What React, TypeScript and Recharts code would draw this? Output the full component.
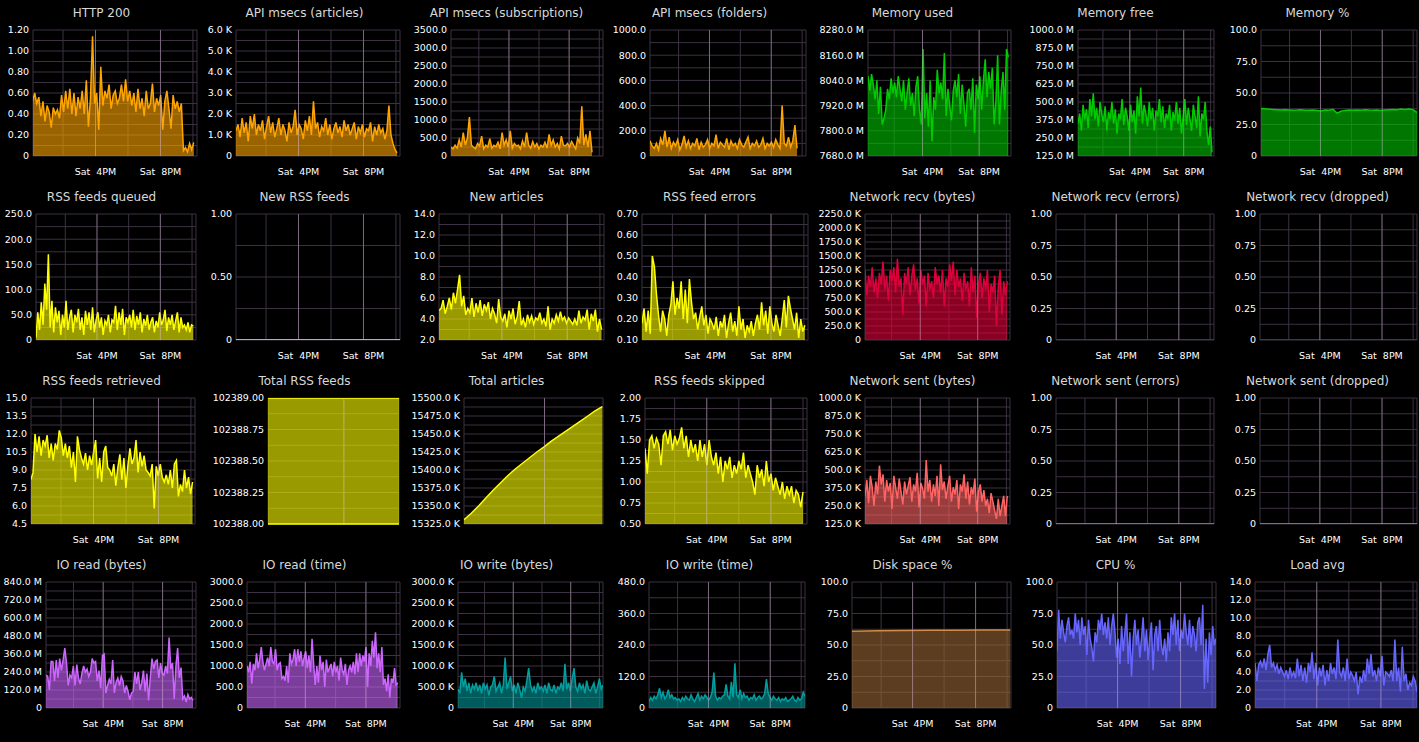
import React from "react";
import { Area, AreaChart, CartesianGrid, ReferenceLine, XAxis, YAxis } from "recharts";

// time axis, in hours of the day (Saturday)
const T0 = 12.15;
const T1 = 22.25;
const END = 22.06;
const hourTicks = [T0, 14, 16, 18, 20, 22, T1];
const majorHours = [16, 20];
const totalsTicks = [T0, 18, T1];
const hourLabels: Record<number, string> = { 16: "Sat\u00a0 4PM", 20: "Sat\u00a0 8PM" };

// y ticks (labelled ones, a grid line is added half way between)
const httpTicks = [0, 0.2, 0.4, 0.6, 0.8, 1.0, 1.2];
const articlesMsTicks = [0, 1, 2, 3, 4, 5, 6];
const subsMsTicks = [0, 500, 1000, 1500, 2000, 2500, 3000, 3500];
const foldersMsTicks = [0, 200, 400, 600, 800, 1000];
const memUsedTicks = [7680, 7800, 7920, 8040, 8160, 8280];
const memFreeTicks = [125, 250, 375, 500, 625, 750, 875, 1000];
const pctTicks = [0, 25, 50, 75, 100];
const queuedTicks = [0, 50, 100, 150, 200, 250];
const halfTicks = [0, 0.5, 1];
const quarterTicks = [0, 0.25, 0.5, 0.75, 1];
const newArticlesTicks = [2, 4, 6, 8, 10, 12, 14];
const errorsTicks = [0.1, 0.2, 0.3, 0.4, 0.5, 0.6, 0.7];
const netRecvTicks = [0, 250, 500, 750, 1000, 1250, 1500, 1750, 2000, 2250];
const retrievedTicks = [4.5, 6, 7.5, 9, 10.5, 12, 13.5, 15];
const totalFeedsTicks = [102388, 102388.25, 102388.5, 102388.75, 102389];
const totalArticlesTicks = [15325, 15350, 15375, 15400, 15425, 15450, 15475, 15500];
const skippedTicks = [0.5, 0.75, 1, 1.25, 1.5, 1.75, 2];
const netSentTicks = [125, 250, 375, 500, 625, 750, 875, 1000];
const ioReadBytesTicks = [0, 120, 240, 360, 480, 600, 720, 840];
const ioReadTimeTicks = [0, 500, 1000, 1500, 2000, 2500, 3000];
const ioWriteBytesTicks = [0, 500, 1000, 1500, 2000, 2500, 3000];
const ioWriteTimeTicks = [0, 120, 240, 360, 480];
const loadTicks = [0, 2, 4, 6, 8, 10, 12, 14];

// series
const http200 = [
  0.45, 0.52, 0.6, 0.5, 0.56, 0.38, 0.52, 0.33, 0.48, 0.42,
  0.27, 0.46, 0.4, 0.44, 0.36, 0.58, 0.42, 0.62, 0.45, 0.64,
  0.4, 0.6, 0.38, 0.56, 0.45, 0.62, 0.4, 0.72, 0.28, 0.55,
  1.14, 0.5, 0.6, 0.25, 0.85, 0.48, 0.62, 0.55, 0.68, 0.45,
  0.58, 0.62, 0.5, 0.55, 0.68, 0.52, 0.73, 0.52, 0.62, 0.48,
  0.6, 0.42, 0.64, 0.45, 0.55, 0.38, 0.62, 0.45, 0.5, 0.69,
  0.42, 0.55, 0.48, 0.58, 0.25, 0.52, 0.62, 0.45, 0.26, 0.58,
  0.45, 0.52, 0.42, 0.5, 0.05, 0.08, 0.04, 0.12, 0.06, 0.13,
];
const apiArticles = [
  1.2, 1.5, 0.9, 1.8, 1.1, 1.6, 0.7, 1.9, 1.3, 2.0, 1.0, 1.5, 1.2, 1.7, 0.8, 1.4,
  1.9, 1.1, 1.6, 0.9, 1.3, 1.8, 1.0, 1.5, 1.2, 0.7, 1.6, 1.1, 1.4, 2.2, 1.0, 1.5,
  1.3, 0.8, 1.7, 1.2, 1.9, 1.0, 2.6, 1.3, 1.6, 0.9, 1.4, 1.2, 1.8, 1.0, 1.5, 0.8,
  1.3, 1.6, 1.1, 1.4, 0.9, 1.7, 1.2, 1.5, 1.0, 1.3, 1.6, 0.8, 1.4, 1.1, 1.5, 0.9,
  1.3, 1.2, 1.6, 0.7, 1.4, 1.0, 1.5, 1.1, 1.3, 0.8, 1.2, 2.4, 1.0, 0.6, 0.3, 0.15,
];
const apiSubscriptions = [
  250, 200, 300, 220, 450, 250, 650, 300, 500, 1080, 300, 250, 200, 350, 280, 550,
  200, 300, 250, 480, 220, 300, 260, 380, 200, 650, 300, 450, 250, 700, 220, 350,
  280, 300, 200, 420, 250, 650, 300, 220, 400, 250, 350, 200, 300, 250, 380, 220,
  600, 300, 450, 250, 350, 200, 550, 300, 280, 350, 250, 400, 300, 200, 500, 350,
  1380, 300, 600, 250, 700, 100,
];
const apiFolders = [
  120, 80, 60, 100, 50, 140, 90, 200, 70, 150, 60, 110, 80, 130, 50, 90, 160, 70,
  120, 60, 100, 80, 140, 50, 110, 70, 90, 130, 60, 100, 80, 170, 60, 110, 90, 70,
  140, 50, 120, 80, 100, 60, 130, 90, 70, 110, 150, 60, 100, 80, 120, 70, 90, 140,
  60, 100, 80, 110, 70, 130, 90, 60, 400, 100, 80, 150, 70, 120, 245, 60,
];
const memUsed = [
  8060, 7990, 8070, 8020, 7950, 8040, 7880, 8010, 7830, 7860, 7900, 8000, 7950, 8050,
  7980, 8030, 7960, 8060, 8000, 7940, 8040, 7900, 7980, 8050, 7920, 7980, 7870, 8010,
  8060, 7900, 7830, 8190, 7860, 7980, 7820, 8040, 7750, 7960, 7900, 8090, 7980, 8030,
  7950, 8170, 7870, 8000, 7920, 7850, 7990, 8040, 7960, 8070, 7880, 8020, 7930, 7820,
  7980, 8000, 7900, 8050, 7790, 8020, 7950, 8060, 7900, 8040, 8140, 7960, 8080, 8000,
  8100, 7830, 7940, 8160, 7830, 7990, 8080, 7900, 8190, 8150,
];
const memFree = [
  350, 420, 300, 480, 380, 450, 320, 520, 400, 560, 380, 460, 330, 500, 420, 360,
  470, 300, 430, 380, 500, 350, 450, 280, 420, 380, 520, 340, 460, 400, 300, 480,
  360, 440, 280, 540, 400, 600, 350, 480, 420, 330, 500, 380, 460, 300, 440, 400,
  520, 360, 470, 320, 420, 380, 480, 300, 430, 370, 500, 350, 460, 280, 400, 520,
  340, 460, 380, 300, 480, 400, 320, 540, 260, 420, 380, 500, 300, 200, 330, 150,
];
const memPct = [
  37.8, 37.5, 37.2, 37.0, 36.8, 36.5, 36.8, 36.6, 36.4, 36.5, 36.7, 36.3, 36.4, 36.6,
  36.2, 35.8, 36.5, 36.3, 37.0, 34.0, 35.5, 36.2, 36.5, 36.3, 36.6, 36.4, 36.8, 36.5,
  36.3, 36.6, 36.2, 36.5, 36.8, 37.0, 36.7, 37.2, 37.0, 37.3, 36.8, 34.5,
];
const rssQueued = [
  5, 55, 20, 75, 30, 112, 60, 170, 25, 78, 15, 65, 35, 58, 10, 50, 25, 78, 20, 45,
  60, 15, 50, 35, 62, 20, 45, 10, 58, 30, 55, 20, 65, 15, 40, 55, 25, 45, 10, 38,
  30, 50, 15, 40, 35, 68, 20, 55, 30, 62, 10, 45, 35, 50, 25, 60, 20, 48, 30, 55,
  15, 42, 28, 50, 20, 36, 45, 15, 38, 25, 55, 30, 40, 60, 18, 45, 30, 50, 20, 38,
  55, 15, 45, 25, 30, 20, 35, 15, 30, 28,
];
const newRssFeeds = [0, 0, 0, 0, 0, 0, 0, 0, 0, 0];
const newArticles = [
  4.8, 5.0, 5.8, 4.5, 5.2, 6.0, 4.9, 6.5, 5.5, 6.8, 8.2, 5.2, 6.2, 4.4, 5.0, 4.6,
  6.0, 4.2, 5.5, 4.6, 5.8, 4.3, 5.4, 4.8, 5.6, 4.0, 5.0, 4.5, 3.6, 5.9, 4.2, 3.8,
  4.5, 3.2, 4.8, 4.0, 5.0, 3.5, 4.2, 5.7, 3.4, 4.0, 3.2, 4.4, 3.7, 4.3, 3.5, 4.1,
  3.9, 4.6, 3.6, 4.0, 3.3, 5.2, 3.0, 4.0, 3.6, 4.4, 3.8, 4.7, 3.9, 4.2, 3.6, 4.1,
  3.8, 3.5, 4.0, 3.4, 4.8, 3.6, 4.2, 3.9, 4.9, 3.0, 4.5, 3.8, 4.9, 2.8, 4.0, 3.0,
];
const rssErrors = [
  0.18, 0.25, 0.14, 0.24, 0.13, 0.5, 0.45, 0.32, 0.22, 0.14, 0.24, 0.2, 0.12, 0.22,
  0.27, 0.38, 0.22, 0.3, 0.25, 0.38, 0.2, 0.34, 0.18, 0.39, 0.28, 0.2, 0.23, 0.15,
  0.21, 0.26, 0.17, 0.22, 0.13, 0.2, 0.18, 0.15, 0.21, 0.12, 0.19, 0.16, 0.22, 0.11,
  0.18, 0.23, 0.14, 0.19, 0.12, 0.26, 0.15, 0.2, 0.11, 0.17, 0.14, 0.19, 0.12, 0.18,
  0.22, 0.15, 0.28, 0.17, 0.24, 0.13, 0.26, 0.18, 0.14, 0.22, 0.17, 0.12, 0.2, 0.29,
  0.16, 0.31, 0.25, 0.2, 0.15, 0.23, 0.11, 0.2, 0.14, 0.17,
];
const netRecv = [
  1250, 800, 1150, 950, 1300, 850, 1100, 750, 1200, 1000, 1400, 900, 1150, 700, 1250,
  1050, 1300, 850, 1450, 950, 1100, 450, 1200, 1000, 1300, 800, 1150, 1350, 900, 1100,
  650, 1250, 1000, 1150, 600, 1200, 900, 1050, 750, 1300, 1000, 1150, 850, 1250, 600,
  1100, 950, 1350, 1050, 1400, 800, 1250, 950, 1100, 700, 1200, 900, 1050, 600, 1300,
  850, 1150, 400, 1000, 1200, 750, 1100, 900, 1250, 500, 1000, 850, 1150, 250, 950,
  1250, 450, 1050, 800, 1050,
];
const netRecvErrors = [0, 0, 0, 0, 0, 0, 0, 0, 0, 0];
const netRecvDropped = [0, 0, 0, 0, 0, 0, 0, 0, 0, 0];
const rssRetrieved = [
  8.2, 8.8, 12.0, 10.5, 11.8, 10.2, 11.5, 11.0, 11.9, 10.0, 11.2, 9.8, 11.2, 10.7,
  12.3, 11.7, 10.2, 11.2, 10.0, 11.0, 9.2, 10.5, 8.0, 11.8, 10.7, 10.0, 9.5, 10.4,
  9.0, 10.2, 9.4, 10.5, 11.5, 8.3, 10.0, 8.0, 10.5, 11.0, 9.2, 9.0, 8.5, 9.5, 7.7,
  9.2, 10.3, 8.2, 10.0, 7.5, 9.4, 10.8, 9.5, 10.0, 11.5, 8.8, 10.5, 9.3, 10.2, 9.0,
  8.8, 8.5, 9.5, 5.8, 9.3, 8.5, 9.5, 8.4, 8.0, 8.6, 7.8, 9.0, 7.5, 9.5, 9.8, 6.8,
  7.8, 7.2, 9.0, 7.5, 8.4, 7.0, 8.0,
];
const totalRssFeeds = [102389, 102389];
const totalArticles = [
  15331, 15340, 15350, 15361, 15372, 15382, 15392, 15401, 15409, 15417, 15425, 15432,
  15440, 15447, 15454, 15461, 15468, 15475, 15482, 15488,
];
const rssSkipped = [
  1.4, 1.1, 1.5, 1.55, 1.4, 1.52, 1.45, 1.2, 1.55, 1.6, 1.45, 1.62, 1.38, 1.55, 1.45,
  1.52, 1.65, 1.4, 1.55, 1.3, 1.5, 1.35, 1.45, 1.25, 1.5, 1.3, 1.45, 1.2, 1.5, 1.3,
  1.2, 1.35, 1.1, 1.3, 1.0, 1.25, 1.15, 1.3, 1.05, 1.2, 1.1, 1.25, 1.15, 1.35, 1.05,
  1.2, 1.1, 1.0, 0.85, 1.2, 1.05, 1.15, 0.95, 1.25, 1.0, 1.1, 0.9, 1.05, 0.95, 0.85,
  1.0, 0.8, 0.95, 0.85, 0.95, 0.75, 0.9, 0.85, 0.7, 0.88,
];
const netSent = [
  320, 430, 270, 460, 380, 250, 420, 330, 530, 400, 470, 280, 430, 350, 410, 230, 460,
  380, 300, 440, 350, 260, 420, 330, 390, 450, 280, 400, 350, 480, 240, 410, 370, 300,
  570, 350, 430, 280, 400, 320, 460, 250, 540, 360, 420, 300, 390, 460, 280, 380, 330,
  430, 230, 400, 350, 470, 300, 420, 260, 380, 330, 440, 210, 350, 400, 280, 360, 250,
  300, 200, 340, 280, 220, 160, 300, 180, 250, 320, 180, 320,
];
const netSentErrors = [0, 0, 0, 0, 0, 0, 0, 0, 0, 0];
const netSentDropped = [0, 0, 0, 0, 0, 0, 0, 0, 0, 0];
const ioReadBytes = [
  220, 210, 120, 310, 310, 180, 320, 200, 330, 250, 320, 400, 300, 150, 220, 200, 280,
  150, 290, 200, 160, 230, 280, 240, 260, 210, 240, 330, 300, 310, 180, 250, 130, 350,
  360, 100, 150, 190, 160, 320, 100, 170, 200, 150, 210, 180, 100, 150, 110, 55, 100,
  110, 240, 160, 240, 120, 170, 250, 110, 230, 50, 200, 330, 260, 310, 320, 200, 300,
  230, 220, 280, 230, 470, 260, 300, 60, 280, 400, 200, 270, 60, 80, 40, 90, 60, 70, 50,
];
const ioReadTime = [
  1000, 850, 1100, 580, 1050, 900, 1300, 950, 1150, 1450, 1100, 900, 1050, 1200, 1000,
  1450, 1100, 1050, 1400, 900, 1050, 1080, 700, 750, 650, 1000, 600, 1300, 1050, 1150,
  1400, 1000, 1400, 1100, 1350, 1000, 1200, 1350, 950, 1250, 850, 1650, 1050, 550, 1000,
  600, 1250, 900, 1100, 500, 1150, 850, 950, 1050, 750, 1100, 850, 1000, 650, 1200, 900,
  800, 1050, 550, 900, 1000, 850, 1100, 800, 1300, 850, 1300, 1000, 1250, 1100, 1450,
  500, 1300, 1000, 1600, 1200, 1800, 950, 1300, 850, 1450, 550, 700, 400, 800, 250, 700,
  600, 950, 550, 600,
];
const ioWriteBytes = [
  450, 350, 850, 500, 700, 400, 600, 350, 550, 450, 600, 400, 550, 350, 600, 450, 550,
  300, 500, 550, 750, 400, 500, 600, 350, 550, 1200, 450, 600, 750, 400, 550, 350, 600,
  450, 250, 500, 400, 650, 950, 550, 400, 500, 350, 600, 450, 500, 400, 550, 350, 600,
  450, 400, 550, 350, 500, 450, 600, 400, 1050, 450, 600, 400, 700, 950, 500, 400, 600,
  450, 550, 350, 650, 450, 400, 500, 600, 350, 500, 700, 450, 550,
];
const ioWriteTime = [
  25, 40, 30, 45, 35, 50, 75, 40, 60, 35, 45, 70, 40, 50, 35, 40, 30, 35, 25, 40, 30,
  45, 35, 30, 50, 35, 25, 40, 55, 30, 45, 35, 50, 40, 30, 40, 60, 135, 45, 30, 40, 35,
  45, 50, 90, 45, 35, 100, 40, 170, 50, 40, 70, 35, 55, 40, 45, 30, 40, 35, 50, 30, 40,
  45, 35, 40, 55, 110, 55, 40, 30, 45, 35, 30, 40, 25, 35, 30, 40, 25, 30, 35, 45, 30,
  25, 40, 30, 35, 60, 45,
];
const diskPct = [61.0, 61.3, 61.5, 61.7, 61.8, 62.0, 62.0];
const cpuPct = [
  45, 78, 55, 70, 60, 52, 65, 72, 58, 62, 55, 75, 60, 70, 50, 72, 58, 65, 42, 70, 55, 48,
  37, 60, 52, 70, 62, 75, 58, 68, 55, 72, 50, 65, 75, 60, 40, 55, 35, 65, 45, 60, 75, 35,
  60, 25, 55, 70, 50, 62, 40, 55, 72, 45, 62, 38, 55, 68, 30, 58, 65, 45, 70, 50, 42, 55,
  37, 60, 45, 72, 58, 75, 50, 70, 45, 62, 55, 75, 60, 50, 70, 48, 65, 58, 45, 68, 72, 50,
  82, 15, 55, 20, 60, 42, 65, 50, 55,
];
const loadAvg = [
  5.0, 3.0, 4.8, 5.2, 4.5, 5.5, 4.2, 6.0, 7.0, 4.5, 5.0, 4.2, 4.8, 3.8, 4.5, 4.0, 3.5,
  4.2, 3.2, 4.5, 3.5, 4.0, 3.3, 5.5, 3.5, 4.8, 3.0, 4.5, 2.8, 5.0, 4.0, 6.2, 3.2, 5.0,
  2.5, 4.5, 3.5, 4.8, 2.5, 4.2, 3.0, 5.0, 3.8, 4.5, 3.2, 7.6, 4.0, 3.5, 4.5, 3.0, 5.5,
  3.2, 4.0, 3.6, 3.0, 4.0, 1.5, 3.5, 2.8, 4.2, 3.0, 5.5, 3.8, 6.0, 3.5, 4.2, 3.0, 4.5,
  3.5, 5.8, 2.5, 4.0, 3.8, 3.5, 4.2, 3.0, 7.6, 3.0, 4.5, 1.8, 6.8, 3.0, 3.8, 2.0, 2.8,
  2.5, 3.5, 3.0, 1.8,
];

// layout
const W = 203;
const H = 184;
const colLefts = [0, 203, 405, 608, 811, 1014, 1216];
const rowTops = [0, 184, 368, 552];
const plotEdges = [
  [[33, 197], [236, 400], [451, 603], [650, 806], [868, 1011], [1078, 1214], [1261, 1417]],
  [[36, 196], [236, 400], [439, 604], [642, 808], [865, 1010], [1056, 1214], [1260, 1417]],
  [[31, 195], [268, 399], [464, 603], [645, 807], [865, 1010], [1056, 1214], [1260, 1417]],
  [[46, 196], [247, 400], [458, 603], [649, 805], [852, 1011], [1057, 1216], [1255, 1417]],
];

const GRID = "#3c3242";
const MAJOR = "rgba(205,175,205,0.45)";
const ORANGE = { line: "#ffa500", fill: "#ffa500" };
const GREEN = { line: "#00cc00", fill: "#00c600" };
const YELLOW = { line: "#ffff00", fill: "#ffff00" };
const RED = { line: "#dc003c", fill: "#e6003a" };
const SALMON = { line: "#ff6464", fill: "#ff6464" };
const PURPLE = { line: "#cc66ff", fill: "#cc66ff" };
const TEAL = { line: "#00a0a0", fill: "#009999" };
const BROWN = { line: "#d08c48", fill: "#996633" };
const BLUE = { line: "#6666ff", fill: "#6666ff" };

// non-breaking space keeps "8280.0 M" on one line
const fmt = (d: number, suffix = "") => (v: number) =>
  v === 0 ? "0" : v.toFixed(d) + (suffix ? "\u00a0" + suffix : "");

interface PanelDef {
  title: string;
  row: number;
  col: number;
  values: number[];
  ticks: number[];
  format: (v: number) => string;
  color: { line: string; fill: string };
  start?: number;
  end?: number;
  totals?: boolean;
  floorLine?: number;
}

const panels: PanelDef[] = [
  { title: "HTTP 200", row: 0, col: 0, values: http200, ticks: httpTicks, format: fmt(2), color: ORANGE, start: 12.0, end: 22.05 },
  { title: "API msecs (articles)", row: 0, col: 1, values: apiArticles, ticks: articlesMsTicks, format: fmt(1, "K"), color: ORANGE, end: 22.07 },
  { title: "API msecs (subscriptions)", row: 0, col: 2, values: apiSubscriptions, ticks: subsMsTicks, format: fmt(1), color: ORANGE, end: 21.52 },
  { title: "API msecs (folders)", row: 0, col: 3, values: apiFolders, ticks: foldersMsTicks, format: fmt(1), color: ORANGE, end: 21.67 },
  { title: "Memory used", row: 0, col: 4, values: memUsed, ticks: memUsedTicks, format: fmt(1, "M"), color: GREEN },
  { title: "Memory free", row: 0, col: 5, values: memFree, ticks: memFreeTicks, format: fmt(1, "M"), color: GREEN, end: 22.1 },
  { title: "Memory %", row: 0, col: 6, values: memPct, ticks: pctTicks, format: fmt(1), color: GREEN, end: T1 },

  { title: "RSS feeds queued", row: 1, col: 0, values: rssQueued, ticks: queuedTicks, format: fmt(1), color: YELLOW, end: 22.08 },
  { title: "New RSS feeds", row: 1, col: 1, values: newRssFeeds, ticks: halfTicks, format: fmt(2), color: YELLOW, end: T1 },
  { title: "New articles", row: 1, col: 2, values: newArticles, ticks: newArticlesTicks, format: fmt(1), color: YELLOW, end: 22.1 },
  { title: "RSS feed errors", row: 1, col: 3, values: rssErrors, ticks: errorsTicks, format: fmt(2), color: YELLOW },
  { title: "Network recv (bytes)", row: 1, col: 4, values: netRecv, ticks: netRecvTicks, format: fmt(1, "K"), color: RED },
  { title: "Network recv (errors)", row: 1, col: 5, values: netRecvErrors, ticks: quarterTicks, format: fmt(2), color: RED, end: T1 },
  { title: "Network recv (dropped)", row: 1, col: 6, values: netRecvDropped, ticks: quarterTicks, format: fmt(2), color: RED, end: T1 },

  { title: "RSS feeds retrieved", row: 2, col: 0, values: rssRetrieved, ticks: retrievedTicks, format: fmt(1), color: YELLOW, end: 22.1 },
  { title: "Total RSS feeds", row: 2, col: 1, values: totalRssFeeds, ticks: totalFeedsTicks, format: fmt(2), color: YELLOW, end: T1, totals: true, floorLine: 102388 },
  { title: "Total articles", row: 2, col: 2, values: totalArticles, ticks: totalArticlesTicks, format: fmt(1, "K"), color: YELLOW, end: 22.2, totals: true },
  { title: "RSS feeds skipped", row: 2, col: 3, values: rssSkipped, ticks: skippedTicks, format: fmt(2), color: YELLOW, end: 22.0 },
  { title: "Network sent (bytes)", row: 2, col: 4, values: netSent, ticks: netSentTicks, format: fmt(1, "K"), color: SALMON },
  { title: "Network sent (errors)", row: 2, col: 5, values: netSentErrors, ticks: quarterTicks, format: fmt(2), color: SALMON, end: T1 },
  { title: "Network sent (dropped)", row: 2, col: 6, values: netSentDropped, ticks: quarterTicks, format: fmt(2), color: SALMON, end: T1 },

  { title: "IO read (bytes)", row: 3, col: 0, values: ioReadBytes, ticks: ioReadBytesTicks, format: fmt(1, "M"), color: PURPLE, end: 22.05 },
  { title: "IO read (time)", row: 3, col: 1, values: ioReadTime, ticks: ioReadTimeTicks, format: fmt(1), color: PURPLE, end: 22.1 },
  { title: "IO write (bytes)", row: 3, col: 2, values: ioWriteBytes, ticks: ioWriteBytesTicks, format: fmt(1, "K"), color: TEAL, end: T1 },
  { title: "IO write (time)", row: 3, col: 3, values: ioWriteTime, ticks: ioWriteTimeTicks, format: fmt(1), color: TEAL, end: T1 },
  { title: "Disk space %", row: 3, col: 4, values: diskPct, ticks: pctTicks, format: fmt(1), color: BROWN, end: 22.2 },
  { title: "CPU %", row: 3, col: 5, values: cpuPct, ticks: pctTicks, format: fmt(1), color: BLUE, end: T1 },
  { title: "Load avg", row: 3, col: 6, values: loadAvg, ticks: loadTicks, format: fmt(1), color: BLUE, end: T1 },
];

const withMinor = (major: number[]) =>
  major.flatMap((v, i) => (i === 0 ? [v] : [(major[i - 1] + v) / 2, v]));

const toPoints = (values: number[], start: number, end: number) =>
  values.map((v, i) => ({ t: start + ((end - start) * i) / (values.length - 1), v }));

const tickStyle = { fill: "#ffffff", fontSize: 9.5 };

function Panel({ p }: { p: PanelDef }) {
  const x0 = colLefts[p.col];
  const y0 = rowTops[p.row];
  const [pl, pr] = plotEdges[p.row][p.col];
  const yTicks = withMinor(p.ticks);
  const data = toPoints(p.values, p.start ?? T0, p.end ?? END);
  const lines = p.totals ? [18] : majorHours;

  return (
    <div style={{ position: "absolute", left: x0, top: y0, width: W, height: H }}>
      <div
        style={{
          position: "absolute",
          top: 6,
          left: 0,
          width: W,
          textAlign: "center",
          fontSize: 12,
          lineHeight: "14px",
          color: "#d8d8d8",
          whiteSpace: "nowrap",
        }}
      >
        {p.title}
      </div>
      <AreaChart
        width={W}
        height={H}
        data={data}
        margin={{ top: 30, right: x0 + W - pr, left: 0, bottom: 0 }}
      >
        <CartesianGrid stroke={GRID} />
        <XAxis
          type="number"
          dataKey="t"
          domain={[T0, T1]}
          ticks={p.totals ? totalsTicks : hourTicks}
          allowDataOverflow
          interval={0}
          tickFormatter={(v) => (p.totals ? "" : hourLabels[v] ?? "")}
          axisLine={false}
          tickLine={false}
          tickSize={0}
          tickMargin={12}
          height={28}
          tick={tickStyle}
        />
        <YAxis
          type="number"
          domain={[p.ticks[0], p.ticks[p.ticks.length - 1]]}
          ticks={yTicks}
          allowDataOverflow
          interval={0}
          tickFormatter={(v, i) => (i % 2 === 0 ? p.format(v) : "")}
          axisLine={false}
          tickLine={false}
          tickSize={0}
          tickMargin={4}
          width={pl - x0}
          tick={tickStyle}
        />
        <Area
          type="linear"
          dataKey="v"
          stroke={p.color.line}
          strokeWidth={1.5}
          fill={p.color.fill}
          fillOpacity={0.6}
          dot={false}
          activeDot={false}
          isAnimationActive={false}
        />
        {lines.map((h) => (
          <ReferenceLine key={h} x={h} stroke={MAJOR} />
        ))}
        {p.floorLine !== undefined && (
          <ReferenceLine y={p.floorLine} stroke={p.color.line} strokeWidth={1.5} />
        )}
      </AreaChart>
    </div>
  );
}

export default function App() {
  return (
    <div
      style={{
        position: "relative",
        width: 1419,
        height: 742,
        background: "#000",
        fontFamily: "'DejaVu Sans', sans-serif",
        overflow: "hidden",
      }}
    >
      <style>{"body{margin:0;background:#000}"}</style>
      {panels.map((p) => (
        <Panel key={p.title} p={p} />
      ))}
    </div>
  );
}
